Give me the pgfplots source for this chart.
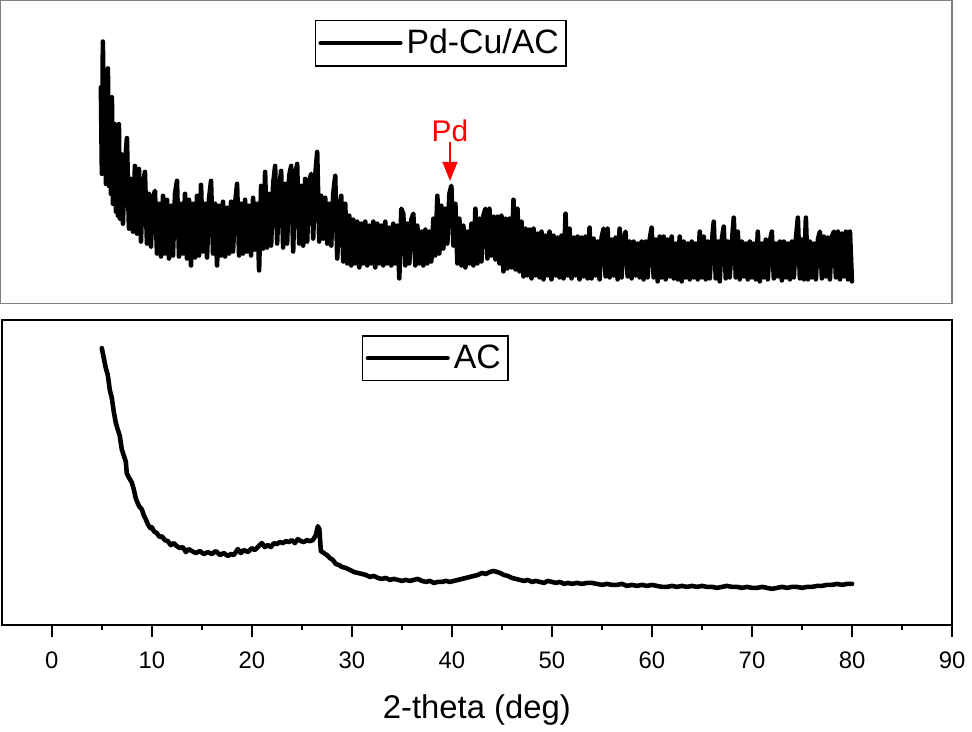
\documentclass[border=0pt]{standalone}
\usepackage{fontspec}
\setmainfont{Liberation Sans}
\usepackage{pgfplots}
\pgfplotsset{compat=1.18}
\usetikzlibrary{arrows.meta}
\definecolor{framegray}{RGB}{128,128,128}
\definecolor{pdred}{RGB}{255,0,0}
\begin{document}
\begin{tikzpicture}
\pgfplotsset{
  panel/.style={
    scale only axis,
    xmin=-5, xmax=90,
    ymin=0,
    clip=false,
    legend image code/.code={\draw[##1] (0pt,0pt) -- (40pt,0pt);},
    legend style={draw=black, line width=0.75pt,
      font=\fontsize{17}{19}\selectfont,
      inner xsep=1.5pt, inner ysep=2.5pt,
      /tikz/every even column/.style={column sep=3pt}},
  },
  xrd/.style={black, line width=2.3pt, line join=round, line cap=round},
}
% ---- lower panel: AC ----
\begin{axis}[panel,
  at={(0pt,0pt)}, anchor=south west,
  width=477.5pt, height=153pt,
  ymax=306,
  axis line style={line width=1pt, black},
  xtick={0,10,...,90},
  minor x tick num=1,
  xtick pos=bottom,
  ytick=\empty,
  tick align=outside,
  major tick length=6pt,
  minor tick length=2.5pt,
  every tick/.style={black, line width=1pt},
  /pgf/number format/assume math mode=true,
  xticklabel style={font=\fontsize{12}{14}\selectfont, yshift=-4pt},
  xlabel={2-theta (deg)},
  xlabel style={font=\fontsize{16.5}{18}\selectfont, at={(axis description cs:0.5,0)}, anchor=base, yshift=-47pt},
  legend style={at={(rel axis cs:0.379,0.951)}, anchor=north west},
]
\addplot[xrd] coordinates {
(5.00,278)(5.20,268)(5.40,258)(5.60,251)(5.80,236)(6.00,228)(6.20,214)(6.40,203)
(6.60,196)(6.80,190)(7.00,176)(7.20,170)(7.40,164)(7.50,152)(7.70,148)(8.00,143)
(8.20,136)(8.40,127)(8.60,122)(8.80,118)(9.00,116)(9.20,110)(9.40,106)(9.60,101)
(9.85,97)(10.00,98)(10.20,94)(10.50,92)(10.80,88)(11.00,89)(11.30,85)(11.60,84)
(11.90,80)(12.20,82)(12.50,79)(12.80,77)(13.10,78)(13.40,73)(13.70,76)(14.00,74)
(14.40,72)(14.80,74)(15.20,71)(15.60,73)(16.00,71)(16.40,74)(16.80,70)(17.20,72)
(17.60,69)(17.90,71)(18.20,70)(18.60,76)(18.90,72)(19.20,75)(19.60,73)(20.00,77)
(20.30,75)(20.70,79)(21.00,82)(21.30,78)(21.60,80)(21.90,78)(22.20,82)(22.50,81)
(22.80,83)(23.10,82)(23.40,84)(23.70,83)(24.00,85)(24.30,82)(24.60,86)(24.90,84)
(25.20,83)(25.50,85)(25.80,84)(26.10,85)(26.40,90)(26.60,99)(26.75,96)(26.90,74)
(27.20,72)(27.50,70)(27.80,67)(28.10,65)(28.40,61)(28.70,60)(29.00,58)(29.40,57)
(29.80,55)(30.20,53)(30.60,52)(31.00,51)(31.40,50)(31.80,48)(32.20,49)(32.60,47)
(33.00,46)(33.40,47)(33.80,45)(34.20,46)(34.60,45)(35.00,44)(35.40,45)(35.80,44)
(36.20,45)(36.60,46)(37.00,44)(37.40,43)(37.80,44)(38.20,42)(38.60,43)(39.00,43)
(39.40,44)(39.80,43)(40.20,44)(40.60,45)(41.00,46)(41.40,47)(41.80,48)(42.20,49)
(42.60,50)(43.00,52)(43.40,51)(43.80,53)(44.20,54)(44.50,53)(44.80,52)(45.20,50)
(45.60,49)(46.00,47)(46.40,46)(46.80,45)(47.20,44)(47.60,45)(48.00,43)(48.40,44)
(48.80,43)(49.20,42)(49.60,44)(50.00,43)(50.40,42)(50.80,43)(51.20,41)(51.60,42)
(52.00,41)(52.50,42)(53.00,41)(53.50,42)(54.00,42)(54.50,41)(55.00,40)(55.50,41)
(56.00,40)(56.50,40)(57.00,41)(57.50,39)(58.00,40)(58.50,39)(59.00,40)(59.50,39)
(60.00,40)(60.50,39)(61.00,38)(61.50,38)(62.00,39)(62.50,38)(63.00,39)(63.50,38)
(64.00,39)(64.50,38)(65.00,39)(65.50,38)(66.00,38)(66.50,37)(67.00,38)(67.50,39)
(68.00,38)(68.50,38)(69.00,37)(69.50,38)(70.00,37)(70.50,37)(71.00,38)(71.50,37)
(72.00,36)(72.50,37)(73.00,38)(73.50,37)(74.00,38)(74.50,38)(75.00,37)(75.50,38)
(76.00,38)(76.50,39)(77.00,39)(77.50,40)(78.00,40)(78.50,41)(79.00,40)(79.50,41)
(80.00,41)
};
\addlegendentry{AC}
\end{axis}
% ---- upper panel: Pd-Cu/AC ----
\begin{axis}[panel,
  at={(-0.5pt,161.5pt)}, anchor=south west,
  width=478pt, height=152pt,
  ymax=304,
  axis line style={line width=0.75pt, framegray},
  xtick=\empty, ytick=\empty,
  legend style={at={(rel axis cs:0.330,0.9375)}, anchor=north west},
]
\addplot[xrd] coordinates {
(5.0,217)(5.1,130)(5.2,263)(5.3,135)(5.4,200)(5.5,120)(5.6,190)(5.7,236)(5.8,118)(5.9,175)
(6.0,110)(6.1,207)(6.2,100)(6.3,160)(6.4,180)(6.5,92)(6.6,178)(6.7,88)(6.8,180)(6.9,85)
(7.0,150)(7.2,80)(7.4,140)(7.6,166)(7.8,75)(8.0,125)(8.2,72)(8.4,138)(8.6,70)(8.8,135)
(9.0,62)(9.2,120)(9.4,132)(9.6,60)(9.8,110)(10.0,57)(10.2,105)(10.4,113)(10.6,50)(10.8,100)
(11.0,47)(11.2,108)(11.4,50)(11.6,104)(11.8,45)(12.0,98)(12.2,48)(12.4,110)(12.6,123)(12.8,47)
(13.0,100)(13.2,50)(13.4,110)(13.6,45)(13.8,104)(14.0,38)(14.2,100)(14.4,46)(14.6,108)(14.8,48)
(15.0,119)(15.2,52)(15.4,100)(15.6,46)(15.8,105)(16.0,123)(16.2,50)(16.4,100)(16.6,38)(16.8,98)
(17.0,48)(17.2,102)(17.4,47)(17.6,96)(17.8,50)(18.0,102)(18.2,52)(18.4,100)(18.6,120)(18.8,48)
(19.0,100)(19.2,50)(19.4,104)(19.6,52)(19.8,98)(20.0,48)(20.2,106)(20.4,54)(20.6,100)(20.8,33)
(21.0,118)(21.2,55)(21.4,132)(21.6,56)(21.8,110)(22.0,58)(22.2,120)(22.4,138)(22.6,60)(22.8,115)
(23.0,133)(23.2,56)(23.4,120)(23.6,60)(23.8,128)(24.0,138)(24.2,52)(24.4,128)(24.6,140)(24.8,60)
(25.0,118)(25.2,58)(25.4,125)(25.6,62)(25.8,122)(26.0,130)(26.2,65)(26.4,128)(26.6,152)(26.8,62)
(27.0,108)(27.2,65)(27.4,106)(27.6,60)(27.8,100)(28.0,58)(28.2,110)(28.4,128)(28.6,45)(28.8,90)
(29.0,108)(29.2,42)(29.4,100)(29.6,40)(29.8,88)(30.0,38)(30.2,84)(30.4,40)(30.6,82)(30.8,36)
(31.0,80)(31.2,40)(31.4,82)(31.6,38)(31.8,78)(32.0,40)(32.2,82)(32.4,36)(32.6,80)(32.8,40)
(33.0,78)(33.2,38)(33.4,82)(33.6,40)(33.8,76)(34.0,38)(34.2,80)(34.4,40)(34.6,78)(34.8,25)
(35.0,95)(35.2,90)(35.4,38)(35.6,80)(35.8,40)(36.0,84)(36.2,90)(36.4,38)(36.6,78)(36.8,40)
(37.0,72)(37.2,38)(37.4,74)(37.6,40)(37.8,72)(38.0,42)(38.2,85)(38.4,48)(38.6,108)(38.8,50)
(39.0,98)(39.2,55)(39.4,95)(39.6,60)(39.8,110)(40.0,118)(40.2,58)(40.4,100)(40.6,40)(40.8,85)
(41.0,38)(41.2,78)(41.4,36)(41.6,72)(41.8,40)(42.0,80)(42.2,38)(42.4,95)(42.6,40)(42.8,85)
(43.0,42)(43.2,88)(43.4,95)(43.6,45)(43.8,95)(44.0,48)(44.2,87)(44.4,44)(44.6,87)(44.8,40)
(45.0,88)(45.2,32)(45.4,85)(45.6,35)(45.8,85)(46.0,36)(46.2,104)(46.4,34)(46.6,95)(46.8,32)
(47.0,82)(47.2,27)(47.4,75)(47.6,28)(47.8,74)(48.0,25)(48.2,75)(48.4,28)(48.6,70)(48.8,26)
(49.0,72)(49.2,24)(49.4,68)(49.6,28)(49.8,72)(50.0,24)(50.2,68)(50.4,28)(50.6,66)(50.8,26)
(51.0,68)(51.2,25)(51.4,90)(51.6,28)(51.8,75)(52.0,25)(52.2,66)(52.4,28)(52.6,67)(52.8,24)
(53.0,66)(53.2,27)(53.4,67)(53.6,25)(53.8,76)(54.0,25)(54.2,65)(54.4,28)(54.6,62)(54.8,24)
(55.0,66)(55.2,75)(55.4,27)(55.6,75)(55.8,26)(56.0,64)(56.2,28)(56.4,66)(56.6,24)(56.8,75)
(57.0,26)(57.2,64)(57.4,72)(57.6,27)(57.8,62)(58.0,25)(58.2,62)(58.4,28)(58.6,60)(58.8,26)
(59.0,62)(59.2,24)(59.4,62)(59.6,26)(59.8,64)(60.0,76)(60.2,26)(60.4,64)(60.6,22)(60.8,67)
(61.0,26)(61.2,67)(61.4,24)(61.6,64)(61.8,27)(62.0,67)(62.2,25)(62.4,60)(62.6,24)(62.8,67)
(63.0,22)(63.2,62)(63.4,26)(63.6,60)(63.8,24)(64.0,62)(64.2,26)(64.4,60)(64.6,24)(64.8,72)
(65.0,26)(65.2,67)(65.4,24)(65.6,62)(65.8,25)(66.0,60)(66.2,82)(66.4,25)(66.6,62)(66.8,22)
(67.0,64)(67.2,77)(67.4,25)(67.6,62)(67.8,26)(68.0,60)(68.2,86)(68.4,26)(68.6,72)(68.8,24)
(69.0,62)(69.2,27)(69.4,60)(69.6,24)(69.8,62)(70.0,26)(70.2,60)(70.4,24)(70.6,72)(70.8,22)
(71.0,60)(71.2,26)(71.4,64)(71.6,24)(71.8,62)(72.0,72)(72.2,25)(72.4,60)(72.6,27)(72.8,62)
(73.0,23)(73.2,62)(73.4,26)(73.6,60)(73.8,24)(74.0,62)(74.2,26)(74.4,64)(74.6,86)(74.8,25)
(75.0,64)(75.2,24)(75.4,86)(75.6,24)(75.8,62)(76.0,26)(76.2,60)(76.4,24)(76.6,64)(76.8,72)
(77.0,25)(77.2,67)(77.4,27)(77.6,66)(77.8,24)(78.0,67)(78.2,72)(78.4,26)(78.6,72)(78.8,24)
(79.0,70)(79.2,27)(79.4,72)(79.6,24)(79.8,72)(80.0,22)
};
\addlegendentry{Pd-Cu/AC}
% Pd reflection marker
\node[pdred, font=\fontsize{15}{17}\selectfont, anchor=base] at (axis cs:39.86,163) {Pd};
\draw[pdred, line width=0.6pt, -{Triangle[width=7.5pt,length=9.5pt]}]
  (axis cs:39.86,162) -- (axis cs:39.86,123);
\end{axis}
\end{tikzpicture}
\end{document}
